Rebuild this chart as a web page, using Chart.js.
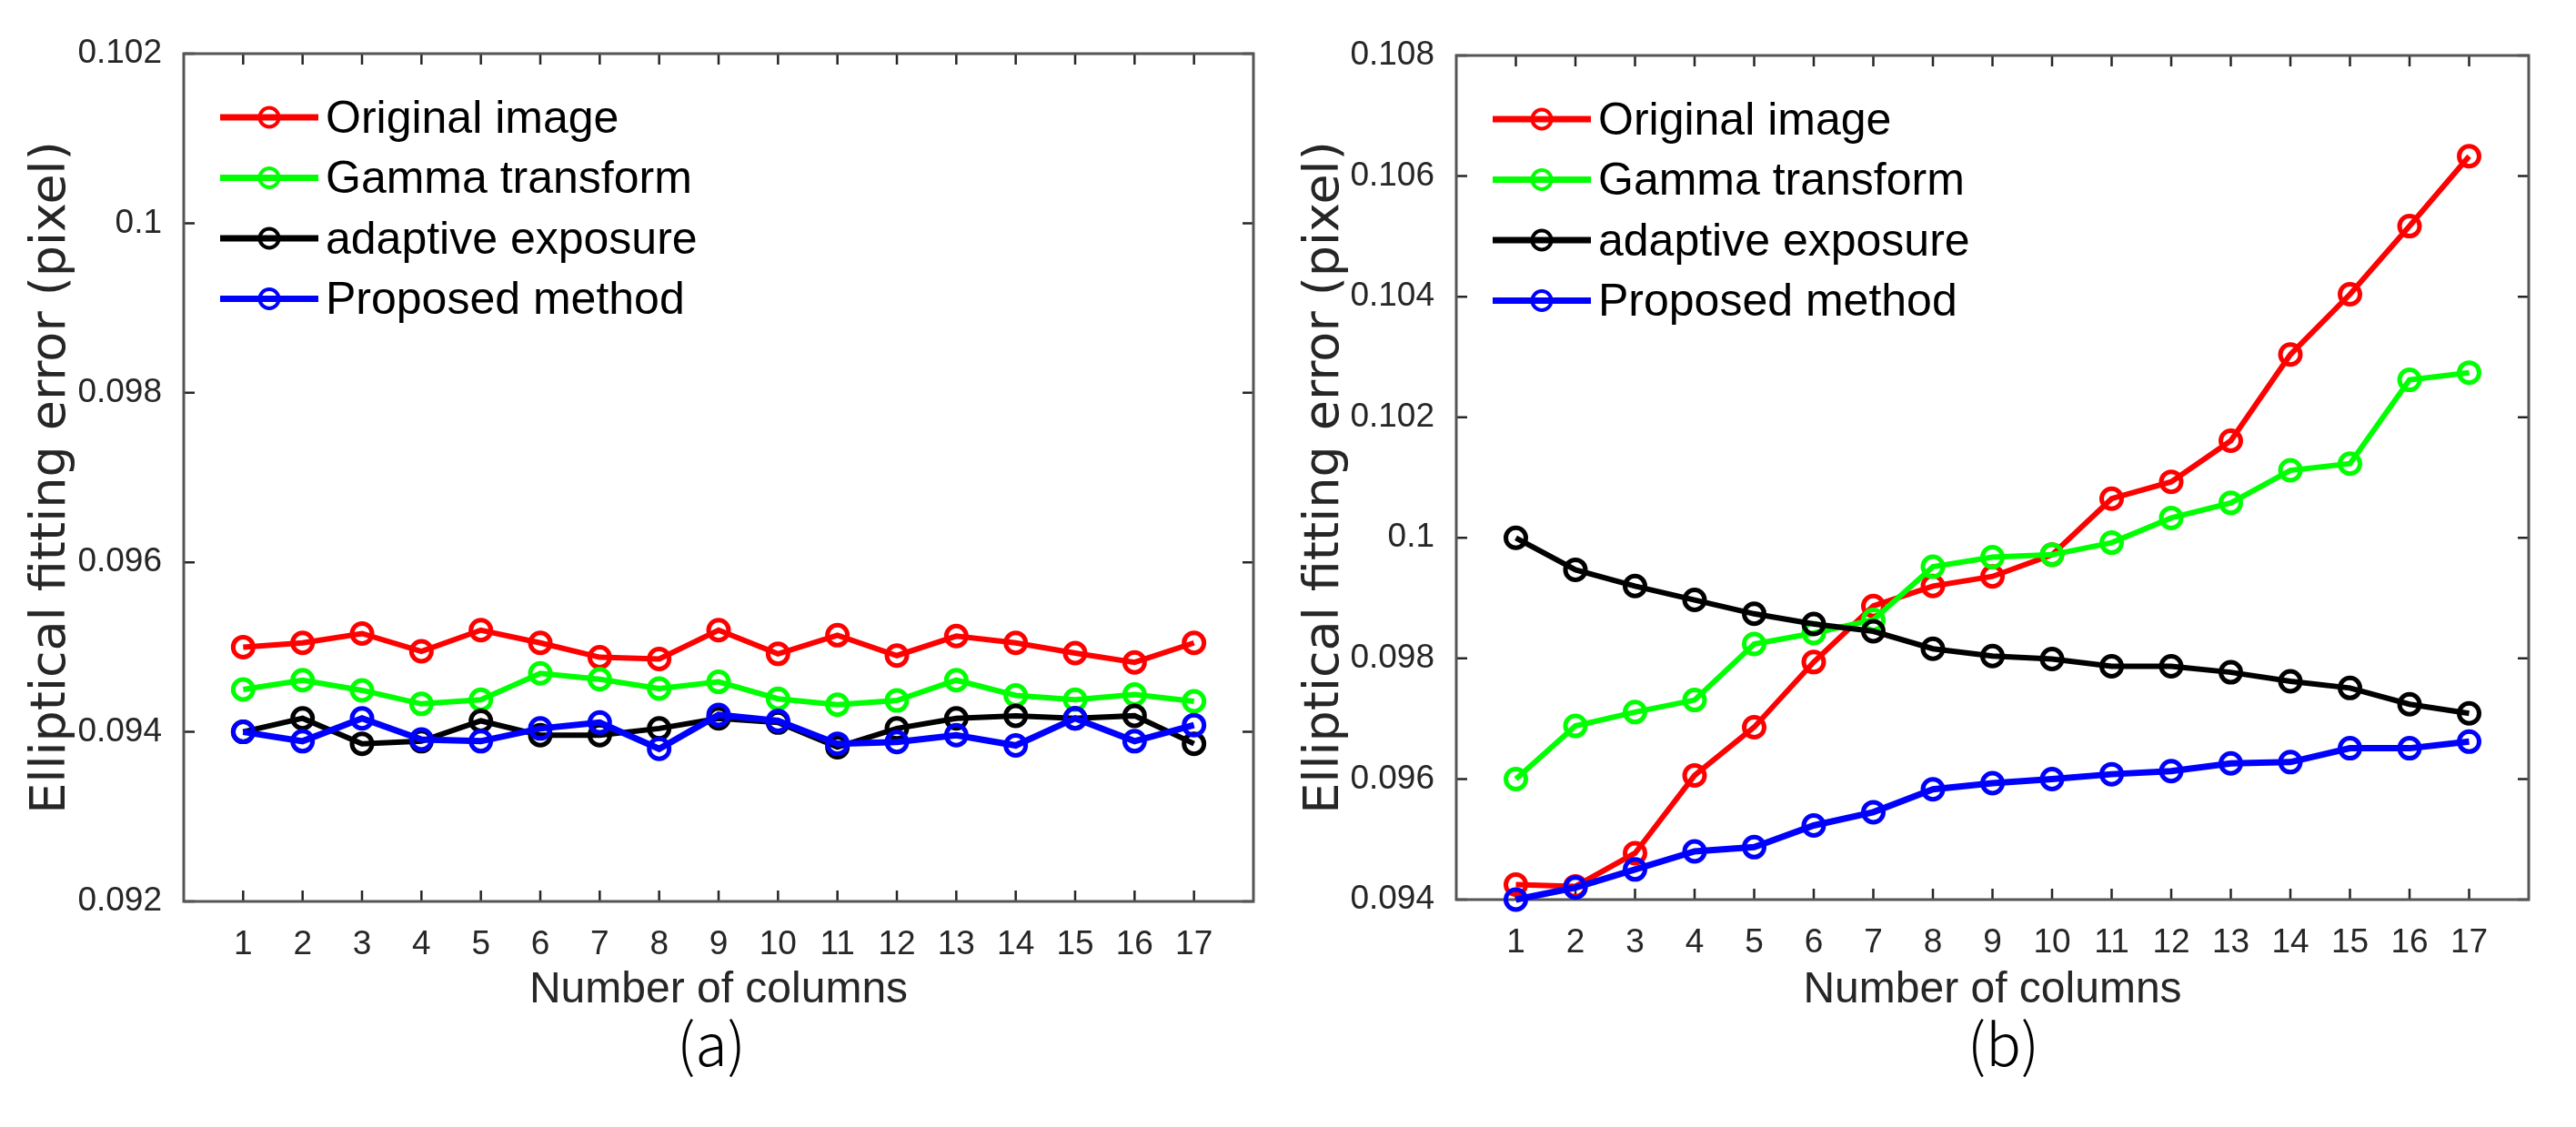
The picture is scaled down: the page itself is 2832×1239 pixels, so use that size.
<!DOCTYPE html>
<html>
<head>
<meta charset="utf-8">
<title>Elliptical fitting error</title>
<script src="https://cdn.jsdelivr.net/npm/chart.js@4.4.1/dist/chart.umd.min.js"></script>
<style>
  html, body { margin: 0; padding: 0; background: #fff; }
  .panel { position: absolute; top: 0; width: 1416px; height: 1239px; }
</style>
</head>
<body>
<div class="panel" style="left:0"><canvas id="chartA" width="1416" height="1239"></canvas></div>
<div class="panel" style="left:1416px"><canvas id="chartB" width="1416" height="1239"></canvas></div>
<script>
// ── Data ──────────────────────────────────────────────────────
const columns = [1, 2, 3, 4, 5, 6, 7, 8, 9, 10, 11, 12, 13, 14, 15, 16, 17];
const seriesNames = ['Original image', 'Gamma transform', 'adaptive exposure', 'Proposed method'];

// (a)
const originalA = [0.0950, 0.09505, 0.09516, 0.09495, 0.0952, 0.09505, 0.09488, 0.09486, 0.0952, 0.09492, 0.09514, 0.0949, 0.09513, 0.09505, 0.09493, 0.09482, 0.09505];
const gammaA    = [0.0945, 0.09461, 0.09449, 0.09433, 0.09438, 0.09469, 0.09462, 0.09451, 0.09459, 0.09439, 0.09432, 0.09437, 0.09461, 0.09443, 0.09438, 0.09444, 0.09436];
const adaptiveA = [0.0940, 0.09416, 0.09386, 0.09389, 0.09413, 0.09396, 0.09396, 0.09404, 0.09416, 0.09411, 0.09382, 0.09404, 0.09416, 0.09419, 0.09416, 0.09419, 0.09386];
const proposedA = [0.0940, 0.09389, 0.09416, 0.09391, 0.09389, 0.09404, 0.09411, 0.0938, 0.0942, 0.09413, 0.09386, 0.09388, 0.09396, 0.09384, 0.09416, 0.09389, 0.09408];
const yTicksA = [0.092, 0.094, 0.096, 0.098, 0.1, 0.102];
const yTickLabelsA = ['0.092', '0.094', '0.096', '0.098', '0.1', '0.102'];

// (b)
const originalB = [0.09425, 0.09422, 0.09477, 0.09606, 0.09686, 0.09794, 0.09887, 0.0992, 0.09936, 0.09972, 0.10065, 0.10093, 0.10161, 0.10304, 0.10404, 0.10517, 0.10633];
const gammaB    = [0.0960, 0.09688, 0.09711, 0.09731, 0.09824, 0.09842, 0.09864, 0.09952, 0.09968, 0.09972, 0.09992, 0.10033, 0.10058, 0.10112, 0.10123, 0.10262, 0.10274];
const adaptiveB = [0.1000, 0.09947, 0.0992, 0.09897, 0.09874, 0.09857, 0.09845, 0.09816, 0.09804, 0.09799, 0.09787, 0.09787, 0.09777, 0.09762, 0.09751, 0.09724, 0.09709];
const proposedB = [0.0940, 0.0942, 0.0945, 0.0948, 0.09487, 0.09523, 0.09545, 0.09583, 0.09593, 0.0960, 0.09608, 0.09613, 0.09626, 0.09628, 0.09651, 0.09651, 0.09662];
const yTicksB = [0.094, 0.096, 0.098, 0.1, 0.102, 0.104, 0.106, 0.108];
const yTickLabelsB = ['0.094', '0.096', '0.098', '0.1', '0.102', '0.104', '0.106', '0.108'];

// ── Styles ────────────────────────────────────────────────────
const lineColors = ['#ff0000', '#00ff00', '#000000', '#0000ff'];
const lineWidths = [6, 6, 6, 7];
const sansFont = '"Liberation Sans", Arial, sans-serif';
const axisInk = '#262626';

// ── Plugins: MATLAB style box, inward ticks, legend, panel tag ─
const axesBox = {
  id: 'axesBox',
  beforeDatasetsDraw(chart) {
    const { ctx, chartArea: a, scales: { x, y } } = chart;
    ctx.save();
    ctx.strokeStyle = axisInk;
    ctx.lineWidth = 2.5;
    ctx.beginPath();
    x.ticks.forEach(t => {
      const px = x.getPixelForValue(t.value);
      ctx.moveTo(px, a.bottom); ctx.lineTo(px, a.bottom - 12);
      ctx.moveTo(px, a.top); ctx.lineTo(px, a.top + 12);
    });
    y.ticks.forEach(t => {
      const py = y.getPixelForValue(t.value);
      ctx.moveTo(a.left, py); ctx.lineTo(a.left + 12, py);
      ctx.moveTo(a.right, py); ctx.lineTo(a.right - 12, py);
    });
    ctx.stroke();
    ctx.strokeStyle = '#555';
    ctx.lineWidth = 3;
    ctx.strokeRect(a.left, a.top, a.width, a.height);
    ctx.restore();
  }
};

const boxLegend = {
  id: 'boxLegend',
  afterDatasetsDraw(chart) {
    const { ctx, chartArea: a } = chart;
    ctx.save();
    ctx.font = '50px ' + sansFont;
    ctx.textBaseline = 'middle';
    chart.data.datasets.forEach((ds, i) => {
      const yy = a.top + 70 + i * 66.5;
      const x0 = a.left + 40;
      ctx.strokeStyle = ds.borderColor;
      ctx.lineWidth = 7;
      ctx.beginPath(); ctx.moveTo(x0, yy); ctx.lineTo(x0 + 108, yy); ctx.stroke();
      ctx.lineWidth = 4;
      ctx.beginPath(); ctx.arc(x0 + 54, yy, 10.5, 0, Math.PI * 2); ctx.stroke();
      ctx.fillStyle = '#000';
      ctx.fillText(ds.label, x0 + 116, yy + 3);
    });
    ctx.restore();
  }
};

const panelTag = {
  id: 'panelTag',
  afterDraw(chart, args, opts) {
    const { ctx, chartArea: a } = chart;
    ctx.save();
    ctx.font = '300 64px "Noto Sans CJK SC", "Noto Sans", sans-serif';
    ctx.fillStyle = '#000';
    ctx.textAlign = 'center';
    ctx.textBaseline = 'middle';
    ctx.fillText(opts.text, (a.left + a.right) / 2 + opts.dx, 1148);
    ctx.restore();
  }
};

function buildDatasets(series) {
  return series.map((vals, i) => ({
    label: seriesNames[i],
    data: columns.map((c, j) => ({ x: c, y: vals[j] })),
    borderColor: lineColors[i],
    backgroundColor: 'rgba(0,0,0,0)',
    borderWidth: lineWidths[i],
    pointRadius: 11,
    pointBorderWidth: 5,
    pointBorderColor: lineColors[i],
    pointBackgroundColor: 'rgba(0,0,0,0)',
    tension: 0,
    clip: false,
    order: 3 - i,
  }));
}

function makeChart(id, cfg) {
  return new Chart(document.getElementById(id), {
    type: 'line',
    data: { datasets: buildDatasets(cfg.series) },
    plugins: [axesBox, boxLegend, panelTag],
    options: {
      responsive: false,
      animation: false,
      layout: { padding: { top: cfg.top, right: 1416 - cfg.right, left: 0, bottom: 0 } },
      plugins: {
        legend: { display: false },
        tooltip: { enabled: false },
        panelTag: { text: cfg.tag, dx: cfg.tagDx },
      },
      scales: {
        x: {
          type: 'linear', min: 0, max: 18,
          grid: { display: false }, border: { display: false },
          afterBuildTicks: s => { s.ticks = columns.map(v => ({ value: v })); },
          afterFit: s => { s.height = 1239 - cfg.bottom; },
          ticks: { color: axisInk, font: { family: sansFont, size: 37 }, padding: 18, autoSkip: false, maxRotation: 0 },
          title: {
            display: true, text: 'Number of columns', color: axisInk,
            font: { family: sansFont, size: 48, lineHeight: 1 },
            padding: { top: 0, bottom: 1239 - 1089 - 24 },
          },
        },
        y: {
          type: 'linear', min: cfg.yTicks[0], max: cfg.yTicks[cfg.yTicks.length - 1],
          grid: { display: false }, border: { display: false },
          afterBuildTicks: s => { s.ticks = cfg.yTicks.map(v => ({ value: v })); },
          afterFit: s => { s.width = cfg.left; },
          ticks: {
            color: axisInk, font: { family: sansFont, size: 37 }, padding: 16,
            callback: (v, i) => cfg.yTickLabels[i],
          },
          title: {
            display: true, text: 'Elliptical fitting error (pixel)', color: axisInk,
            font: { family: '"DejaVu Sans", Verdana, sans-serif', size: 54, lineHeight: 1.2 },
            padding: { top: cfg.yTitlePad, bottom: 0 },
          },
        },
      },
    },
  });
}

makeChart('chartA', {
  series: [originalA, gammaA, adaptiveA, proposedA],
  yTicks: yTicksA, yTickLabels: yTickLabelsA,
  left: 202, right: 1378, top: 59, bottom: 991,
  yTitlePad: 25, tag: '(a)', tagDx: -8,
});

makeChart('chartB', {
  series: [originalB, gammaB, adaptiveB, proposedB],
  yTicks: yTicksB, yTickLabels: yTickLabelsB,
  left: 185, right: 1364, top: 61, bottom: 989,
  yTitlePad: 9, tag: '(b)', tagDx: 12,
});
</script>
</body>
</html>
